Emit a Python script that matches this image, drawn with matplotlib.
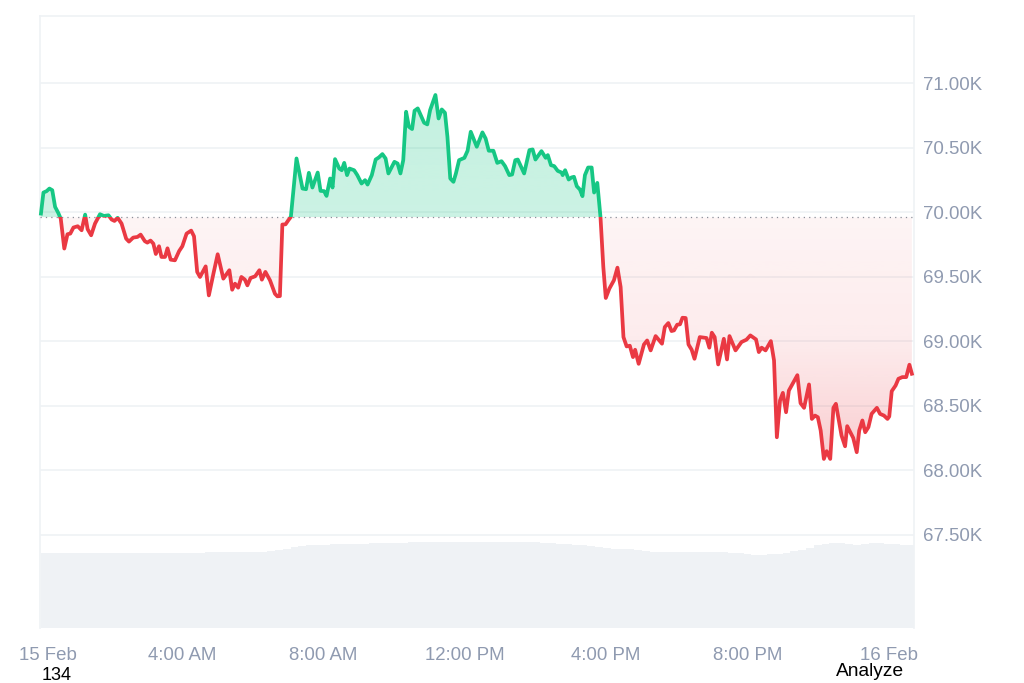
import numpy as np
import matplotlib
matplotlib.use("Agg")
import matplotlib.pyplot as plt
from matplotlib.patches import Rectangle

plt.rcParams['font.family'] = ['Liberation Sans', 'DejaVu Sans']

hours = [0.01,.08,.17,.25,.33,.41,.50,.57,.67,.76,.84,.93,1.05,1.16,1.26,1.33,1.43,1.54,1.68,1.79,1.92,2.01,2.09,2.18,2.29,2.42,2.50,2.62,2.74,2.83,2.95,3.02,3.11,3.19,3.26,3.35,3.42,3.52,3.59,3.68,3.80,3.92,4.01,4.13,4.26,4.34,4.43,4.51,4.67,4.76,4.89,5.01,5.17,5.34,5.42,5.50,5.59,5.68,5.78,5.85,5.94,6.07,6.19,6.26,6.36,6.49,6.63,6.70,6.77,6.84,6.93,7.01,
         7.08,7.24,7.41,7.51,7.59,7.69,7.84,7.92,8.02,8.09,8.19,8.26,8.33,8.45,8.52,8.59,8.67,8.74,8.87,8.96,9.08,9.18,9.25,9.37,9.48,9.57,9.67,9.76,9.84,10.01,10.10,10.18,10.26,10.34,10.42,10.51,10.58,10.67,10.85,10.94,11.02,11.17,11.26,11.35,11.44,11.51,11.59,11.68,11.75,11.84,11.99,12.08,12.17,12.34,12.50,12.59,12.68,12.81,12.92,13.04,13.14,13.26,13.34,13.43,13.50,13.68,13.83,13.92,14.00,14.17,14.29,14.35,14.44,14.53,14.63,14.74,14.77,14.84,14.94,15.02,15.09,15.17,15.26,15.33,15.40,15.49,15.59,15.66,15.75,15.84,
         15.92,15.99,16.09,16.22,16.32,16.41,16.49,16.58,16.67,16.76,16.82,16.92,17.07,17.16,17.26,17.40,17.58,17.66,17.76,17.85,17.92,18.01,18.09,18.16,18.25,18.33,18.42,18.50,18.65,18.84,18.92,18.99,19.07,19.17,19.33,19.42,19.49,19.66,19.83,19.97,20.08,20.24,20.32,20.40,20.51,20.66,20.75,20.83,20.92,21.00,21.09,21.17,21.41,21.50,21.60,21.74,21.82,21.91,21.99,22.07,22.16,22.24,22.34,22.43,22.50,22.66,22.76,22.82,22.99,23.09,23.16,23.25,23.33,23.42,23.51,23.66,23.75,23.86,23.96,24.01,24.08,24.19,24.27,24.38,24.49,24.58,24.65]
prices = [69989,70152,70163,70183,70170,70041,69994,69950,69718,69829,69834,69881,69891,69860,69981,69868,69821,69912,69984,69971,69976,69943,69932,69956,69912,69795,69772,69803,69808,69826,69775,69764,69780,69756,69676,69736,69653,69653,69720,69632,69627,69699,69736,69834,69857,69813,69537,69498,69580,69355,69524,69674,69485,69550,69399,69446,69415,69498,69477,69433,69490,69503,69550,69477,69537,69472,69368,69348,69350,69904,69906,69938,
          69963,70416,70183,70178,70305,70191,70307,70165,70163,70126,70261,70191,70411,70338,70325,70382,70287,70338,70325,70287,70222,70248,70214,70287,70408,70424,70450,70416,70300,70390,70377,70300,70403,70778,70662,70644,70786,70804,70693,70680,70791,70908,70726,70796,70770,70584,70261,70235,70300,70403,70421,70476,70623,70507,70618,70571,70476,70476,70382,70395,70357,70287,70292,70403,70408,70300,70481,70486,70408,70473,70421,70442,70364,70357,70320,70307,70287,70325,70253,70269,70274,70201,70175,70124,70287,70346,70346,70152,70227,69963,
          69576,69335,69407,69472,69570,69420,69032,68960,68965,68877,68934,68825,68975,69006,68929,69040,68981,69110,69141,69079,69084,69128,69131,69182,69180,68975,68934,68864,69032,69025,68950,69066,69032,68820,69019,68859,69040,68929,68994,69012,69045,69014,68916,68950,68929,69001,68851,68256,68541,68600,68450,68618,68737,68520,68484,68665,68398,68424,68411,68308,68088,68148,68088,68484,68515,68269,68186,68342,68251,68140,68308,68386,68295,68334,68437,68484,68437,68424,68398,68417,68613,68657,68709,68722,68722,68818,68748]

volume = [75,75,75,75,75,75,75,75,75,75,75,75,75,75,75,75,75,75,75,75,
          75.5,76,76,76,76,76,76,76,76.5,77,78,79.5,81,82.5,83,83,83.5,84,84,84,84,84.5,85,85,85,85,85.5,86,
          86,86,86,86,86,86,86,86,86,86,86,86,86,86,86,86,85.5,85,84.5,84,83.5,83,82,81,80,79.5,79,79,78.5,77,
          76.5,76.5,76.5,76.5,76.5,76.5,76.5,76.5,76.5,76,75.5,75,74,73.5,73.5,74,74.5,75.5,77,78.5,80.5,83,84.5,85,
          85,84,83.5,84,85,85,84.5,84,83.5,83]
volume_step = 24.75 / len(volume)

reference_price = 69959
price_ticks = [67500,68000,68500,69000,69500,70000,70500,71000]
price_labels = ['67.50K','68.00K','68.50K','69.00K','69.50K','70.00K','70.50K','71.00K']
time_ticks = [0.21,4,8,12,16,20,24]
time_labels = ['15 Feb','4:00 AM','8:00 AM','12:00 PM','4:00 PM','8:00 PM','16 Feb']

GREEN = '#16C784'
RED = '#EA3943'
GRID = '#EFF2F5'
TEXT = '#8F9AB0'

W, H = 1024, 683
fig = plt.figure(figsize=(W/100, H/100), dpi=100, facecolor='white')
rect = [40/W, 1-628/H, (914-40)/W, (628-16)/H]

axv = fig.add_axes(rect, zorder=1)
axv.set_xlim(-0.017, 24.71)
axv.set_ylim(0, 612)
axv.axis('off')
axv.bar(np.arange(len(volume))*volume_step, volume, width=volume_step, align='edge',
        color='#EFF2F5', linewidth=0)

ax = fig.add_axes(rect, zorder=2)
ax.patch.set_alpha(0)
ymin, ymax = 66778, 71520
ax.set_xlim(-0.017, 24.71)
ax.set_ylim(ymin, ymax)

ax.set_yticks(price_ticks, price_labels)
ax.set_xticks(time_ticks, time_labels)
ax.yaxis.tick_right()
ax.tick_params(axis='both', length=0, labelsize=13.4, labelcolor=TEXT)
ax.tick_params(axis='y', pad=6.5)
ax.tick_params(axis='x', pad=13.5)
ax.grid(axis='y', color=GRID, lw=1.2, zorder=1)
ax.set_axisbelow(True)
for side in ['left', 'right', 'top']:
    ax.spines[side].set_color(GRID)
    ax.spines[side].set_linewidth(1.2)
ax.spines['bottom'].set_visible(False)

t = np.array(hours)
p = np.array(prices)

# Gradient fills clipped to the area between the line and the reference price
area = ax.fill_between(t, p, reference_price, color='none', linewidth=0)
clip = area.get_paths()[0]

def gradient(top, bottom, stops_y, stops_a, rgb):
    yy = np.linspace(top, bottom, 256)
    a = np.interp(yy, stops_y, stops_a)
    img = np.zeros((256, 1, 4))
    img[..., :3] = matplotlib.colors.to_rgb(rgb)
    img[:, 0, 3] = a
    im = ax.imshow(img, extent=[t[0], t[-1], bottom, top], aspect='auto', zorder=2,
                   interpolation='bilinear')
    im.set_clip_path(clip, ax.transData)

gradient(ymax, reference_price, [reference_price, ymax], [0.22, 0.28], GREEN)
gradient(reference_price, ymin, [68000, 68500, 69000, reference_price], [0.29, 0.18, 0.10, 0.055], RED)
ax.set_xlim(-0.017, 24.71)
ax.set_ylim(ymin, ymax)

ax.axhline(reference_price, color='#8A8F99', lw=0.9, ls=(0, (1, 3.3)), zorder=3)

for color, y0, y1 in [(GREEN, reference_price, ymax), (RED, ymin, reference_price)]:
    line, = ax.plot(t, p, color=color, lw=2.7, solid_joinstyle='round', zorder=4)
    line.set_clip_path(Rectangle((-1, y0), 27, y1-y0, transform=ax.transData))

fig.text(57/W, 1-675/H, '134', color='black', fontsize=13, ha='center', va='center')
fig.text(870/W, 1-671/H, 'Analyze', color='black', fontsize=13.8, ha='center', va='center')

fig.savefig('out.png', dpi=100, facecolor='white')
